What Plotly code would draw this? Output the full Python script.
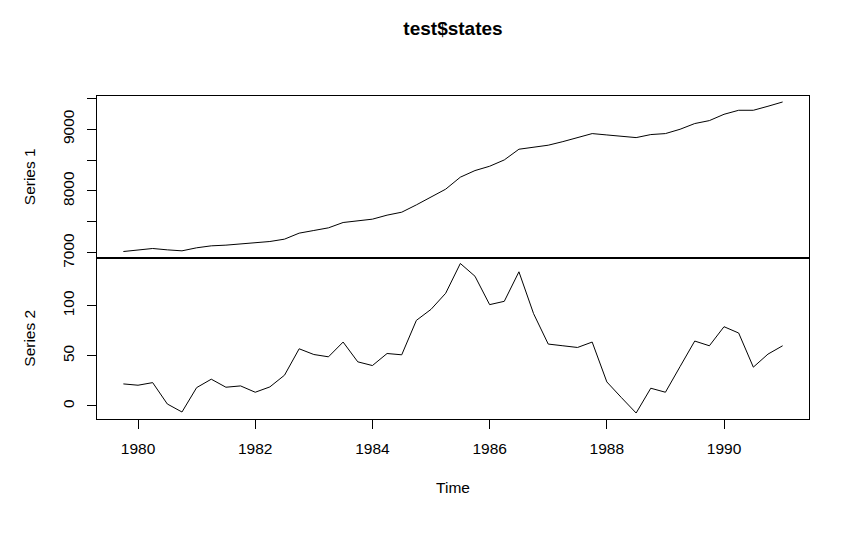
import plotly.graph_objects as go

# ---- data (quarterly, 1979 Q4 .. 1991 Q1) ----
start_year = 1979.75
freq = 4
series1 = [7021, 7048, 7070, 7048, 7032, 7081, 7113, 7124, 7145, 7156,
           7183, 7221, 7318, 7361, 7404, 7490, 7512, 7544, 7609, 7657,
           7775, 7899, 8029, 8223, 8330, 8400, 8502, 8675, 8712, 8740,
           8798, 8858, 8928, 8906, 8890, 8863, 8912, 8928, 8998, 9090,
           9138, 9240, 9305, 9305, 9370, 9439]
series2 = [22, 20.7, 23.3, 2, -6, 18.3, 26.7, 18.7, 20, 13.7,
           19, 30.7, 57, 51.3, 49, 63.7, 44, 40.3, 52.3, 51,
           85.3, 96.3, 112.3, 142, 129.3, 101, 104.3, 133.7, 92, 61.7,
           60, 58.3, 63.7, 24, 8.3, -7, 17.7, 13.7, 39.3, 64.7,
           60, 79, 72.7, 38.7, 51.7, 60]
x_ticks = [1980, 1982, 1984, 1986, 1988, 1990]
y1_ticks = [7000, 7500, 8000, 8500, 9000, 9500]
y1_labels = ["7000", "", "8000", "", "9000", ""]
y2_ticks = [0, 50, 100]
y2_labels = ["0", "50", "100"]
title_text = "test$states"
name1 = "Series 1"
name2 = "Series 2"
x_title = "Time"

time = [start_year + i / freq for i in range(len(series1))]


def pad(lo, hi, f=0.04):
    r = hi - lo
    return [lo - f * r, hi + f * r]


xr = pad(time[0], time[-1])
y1r = pad(min(series1), max(series1))
y2r = pad(min(series2), max(series2))

FONT = "Liberation Sans, Arial, Helvetica, sans-serif"
FS = 15.5

fig = go.Figure()
fig.add_trace(go.Scatter(x=time, y=series1, mode="lines", xaxis="x2", yaxis="y2",
                         line=dict(color="black", width=1), showlegend=False,
                         hoverinfo="x+y"))
fig.add_trace(go.Scatter(x=time, y=series2, mode="lines", xaxis="x", yaxis="y",
                         line=dict(color="black", width=1), showlegend=False,
                         hoverinfo="x+y"))

axis_common = dict(showgrid=False, zeroline=False, showline=True, mirror=True,
                   linecolor="black", linewidth=1, ticks="outside", ticklen=9,
                   tickwidth=1, tickcolor="black",
                   tickfont=dict(family=FONT, size=FS, color="black"))

fig.update_layout(
    width=849, height=535,
    margin=dict(l=97, r=40, t=96, b=116),
    paper_bgcolor="white", plot_bgcolor="white",
    font=dict(family=FONT, size=FS, color="black"),
    title=dict(text="<b>" + title_text + "</b>", x=0.5, xref="paper",
               y=0.947, yref="container", yanchor="middle",
               font=dict(family=FONT, size=19, color="black")),
    xaxis=dict(axis_common, domain=[0, 1], anchor="y", range=xr,
               tickvals=x_ticks, ticktext=[str(v) for v in x_ticks],
               ticklabelstandoff=6,
               title=dict(text=x_title, standoff=26,
                          font=dict(family=FONT, size=FS))),
    xaxis2=dict(axis_common, domain=[0, 1], anchor="y2", range=xr,
                matches="x", showticklabels=False, ticks=""),
    yaxis=dict(axis_common, domain=[0, 0.5], anchor="x", range=y2r,
               tickvals=y2_ticks, ticktext=y2_labels, tickangle=-90,
               ticklabelstandoff=7,
               title=dict(text=name2, standoff=20,
                          font=dict(family=FONT, size=FS))),
    yaxis2=dict(axis_common, domain=[0.5, 1], anchor="x2", range=y1r,
                tickvals=y1_ticks, ticktext=y1_labels, tickangle=-90,
                ticklabelstandoff=7,
                title=dict(text=name1, standoff=20,
                           font=dict(family=FONT, size=FS))),
)

fig.write_html("out.html",
               config={"displayModeBar": False},
               post_script="document.body.style.margin='0';")
